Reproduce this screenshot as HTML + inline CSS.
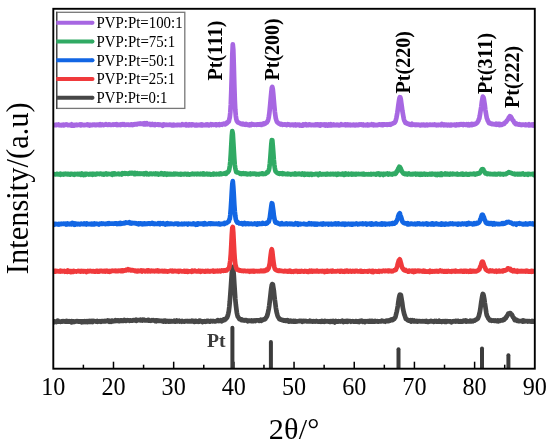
<!DOCTYPE html>
<html><head><meta charset="utf-8"><style>
html,body{margin:0;padding:0;background:#fff;}
svg{display:block;}
text{font-family:"Liberation Serif","DejaVu Serif",serif;}
</style></head><body>
<svg width="550" height="444" viewBox="0 0 550 444">
<rect width="550" height="444" fill="#fff"/>
<defs><clipPath id="pc"><rect x="53.3" y="8.8" width="481.49999999999994" height="359.9"/></clipPath></defs>
<g clip-path="url(#pc)">
<polyline points="53.3,320.9 53.8,322.2 54.3,321.4 54.8,321.7 55.3,321.6 55.8,321.6 56.3,322.1 56.8,321.6 57.3,321.7 57.8,320.6 58.3,321.4 58.8,321.6 59.3,321.6 59.8,321.7 60.3,321.8 60.8,321.6 61.3,321.4 61.8,321.6 62.3,321.2 62.8,321.5 63.3,321.5 63.8,321.1 64.3,321.3 64.8,321.6 65.3,321.5 65.8,321.3 66.3,320.9 66.8,321.6 67.3,321.6 67.8,321.2 68.3,321.7 68.8,321.6 69.3,321.2 69.8,321.3 70.3,321.5 70.8,321.3 71.3,322.3 71.8,321.2 72.3,321.8 72.8,322.0 73.3,321.4 73.8,321.3 74.3,321.6 74.8,321.8 75.3,321.5 75.8,321.5 76.3,321.1 76.8,321.3 77.3,321.4 77.8,321.2 78.3,321.5 78.8,321.7 79.3,321.3 79.8,321.3 80.3,321.5 80.8,321.7 81.3,321.4 81.8,322.2 82.3,321.3 82.8,321.3 83.3,321.9 83.8,321.4 84.3,321.7 84.8,321.2 85.3,322.0 85.8,321.7 86.3,321.3 86.8,321.1 87.3,322.1 87.8,321.6 88.3,321.3 88.8,321.6 89.3,321.0 89.8,321.8 90.3,321.3 90.8,321.7 91.3,321.0 91.8,321.4 92.3,321.5 92.8,321.9 93.3,320.9 93.8,321.2 94.3,321.2 94.8,321.1 95.3,321.3 95.8,321.6 96.3,321.6 96.8,321.6 97.3,321.0 97.8,321.8 98.3,321.5 98.8,321.4 99.3,321.3 99.8,321.2 100.3,321.7 100.8,321.8 101.3,321.3 101.8,321.0 102.3,321.1 102.8,321.2 103.3,321.4 103.8,321.2 104.3,321.3 104.8,321.0 105.3,321.4 105.8,321.2 106.3,321.2 106.8,321.0 107.3,321.1 107.8,320.4 108.3,320.7 108.8,320.7 109.3,321.7 109.8,321.2 110.3,321.3 110.8,320.9 111.3,321.7 111.8,320.7 112.3,320.7 112.8,321.4 113.3,321.3 113.8,321.2 114.3,320.9 114.8,320.8 115.3,320.3 115.8,321.0 116.3,320.7 116.8,320.8 117.3,320.4 117.8,320.6 118.3,320.4 118.8,321.1 119.3,320.8 119.8,321.0 120.3,320.3 120.8,320.5 121.3,320.8 121.8,320.8 122.3,320.5 122.8,320.8 123.3,320.9 123.8,320.5 124.3,319.9 124.8,320.6 125.3,320.7 125.8,320.9 126.3,320.9 126.8,320.4 127.3,320.2 127.8,320.5 128.3,320.4 128.8,320.4 129.3,320.4 129.8,320.8 130.3,320.5 130.8,320.4 131.3,320.6 131.8,320.5 132.3,320.6 132.8,320.4 133.3,320.1 133.8,320.4 134.3,320.4 134.8,320.1 135.3,320.1 135.8,319.8 136.3,320.9 136.8,320.1 137.3,320.4 137.8,320.2 138.3,320.0 138.8,320.0 139.3,320.0 139.8,320.2 140.3,319.8 140.8,320.4 141.3,320.3 141.8,320.1 142.3,320.5 142.8,319.7 143.3,320.0 143.8,319.7 144.3,320.3 144.8,320.4 145.3,320.3 145.8,320.2 146.3,320.5 146.8,320.3 147.3,320.4 147.8,320.0 148.3,320.6 148.8,320.1 149.3,320.6 149.8,320.7 150.3,320.7 150.8,320.8 151.3,320.5 151.8,320.2 152.3,320.5 152.8,320.4 153.3,320.1 153.8,320.5 154.3,320.6 154.8,320.7 155.3,321.1 155.8,320.5 156.3,321.2 156.8,320.5 157.3,320.7 157.8,320.4 158.3,320.8 158.8,321.0 159.3,320.7 159.8,321.0 160.3,320.9 160.8,320.9 161.3,320.9 161.8,321.0 162.3,321.2 162.8,321.0 163.3,321.6 163.8,321.0 164.3,321.3 164.8,320.7 165.3,320.7 165.8,321.6 166.3,321.0 166.8,321.1 167.3,321.4 167.8,321.0 168.3,321.2 168.8,321.6 169.3,321.2 169.8,321.2 170.3,321.1 170.8,321.5 171.3,321.0 171.8,321.0 172.3,321.5 172.8,321.4 173.3,321.3 173.8,321.4 174.3,320.8 174.8,321.2 175.3,321.6 175.8,321.5 176.3,321.3 176.8,320.6 177.3,321.3 177.8,321.3 178.3,321.2 178.8,321.3 179.3,320.7 179.8,321.5 180.3,321.1 180.8,321.3 181.3,321.2 181.8,321.7 182.3,320.9 182.8,321.4 183.3,321.3 183.8,321.6 184.3,321.6 184.8,321.2 185.3,321.1 185.8,321.2 186.3,321.0 186.8,321.2 187.3,321.4 187.8,321.1 188.3,321.2 188.8,321.4 189.3,321.2 189.8,321.0 190.3,321.3 190.8,321.5 191.3,321.2 191.8,320.8 192.3,321.4 192.8,321.4 193.3,321.4 193.8,321.0 194.3,321.9 194.8,321.3 195.3,321.0 195.8,321.6 196.3,320.9 196.8,321.2 197.3,321.5 197.8,321.3 198.3,321.8 198.8,321.5 199.3,320.8 199.8,321.6 200.3,320.8 200.8,321.4 201.3,321.1 201.8,321.3 202.3,322.0 202.8,321.5 203.3,321.3 203.8,321.6 204.3,321.7 204.8,321.2 205.3,321.5 205.8,321.8 206.3,321.5 206.8,321.0 207.3,321.4 207.8,321.0 208.3,320.8 208.8,321.2 209.3,321.5 209.8,321.6 210.3,321.2 210.8,320.9 211.3,321.1 211.8,321.0 212.3,321.3 212.8,321.1 213.3,321.2 213.8,321.2 214.3,321.4 214.8,321.5 215.3,321.2 215.8,321.3 216.3,321.2 216.8,320.8 217.3,320.9 217.8,320.1 218.3,320.6 218.8,321.0 219.3,320.5 219.8,320.6 220.3,320.8 220.8,320.3 221.3,320.7 221.8,321.3 222.3,320.1 222.8,320.4 223.3,319.6 223.8,320.1 224.3,320.1 224.8,319.1 225.3,319.6 225.8,318.9 226.3,318.1 226.8,317.9 227.3,317.0 227.8,315.7 228.3,313.6 228.8,311.2 229.3,307.0 229.8,301.8 230.3,294.9 230.8,288.3 231.3,280.6 231.8,273.0 232.3,268.4 232.8,266.9 233.3,269.8 233.8,275.5 234.3,283.6 234.8,291.2 235.3,299.0 235.8,304.4 236.3,308.4 236.8,312.4 237.3,314.8 237.8,316.6 238.3,317.2 238.8,318.0 239.3,319.0 239.8,318.8 240.3,319.2 240.8,319.3 241.3,319.9 241.8,319.4 242.3,319.9 242.8,320.2 243.3,320.4 243.8,320.4 244.3,320.2 244.8,320.5 245.3,320.2 245.8,320.4 246.3,320.2 246.8,320.4 247.3,320.7 247.8,321.3 248.3,320.7 248.8,320.5 249.3,320.7 249.8,320.6 250.3,320.9 250.8,320.9 251.3,321.1 251.8,320.5 252.3,320.8 252.8,321.0 253.3,321.2 253.8,320.9 254.3,320.4 254.8,320.7 255.3,321.0 255.8,320.4 256.3,320.4 256.8,320.5 257.3,320.5 257.8,320.4 258.3,320.5 258.8,320.4 259.3,320.8 259.8,320.1 260.3,320.4 260.8,319.8 261.3,320.9 261.8,320.0 262.3,319.9 262.8,320.1 263.3,319.8 263.8,319.5 264.3,319.3 264.8,319.4 265.3,318.9 265.8,318.1 266.3,317.3 266.8,316.7 267.3,315.4 267.8,313.6 268.3,311.0 268.8,308.7 269.3,305.3 269.8,300.9 270.3,296.9 270.8,292.3 271.3,288.1 271.8,285.1 272.3,284.1 272.8,284.2 273.3,287.3 273.8,290.3 274.3,295.2 274.8,299.6 275.3,303.2 275.8,307.3 276.3,310.5 276.8,312.9 277.3,314.7 277.8,316.3 278.3,317.4 278.8,317.9 279.3,318.9 279.8,319.3 280.3,319.6 280.8,319.4 281.3,319.6 281.8,319.7 282.3,320.2 282.8,320.3 283.3,320.2 283.8,320.6 284.3,320.3 284.8,320.4 285.3,320.9 285.8,320.8 286.3,320.8 286.8,320.3 287.3,320.1 287.8,320.9 288.3,320.9 288.8,321.6 289.3,320.9 289.8,321.0 290.3,321.3 290.8,320.8 291.3,321.5 291.8,321.2 292.3,321.1 292.8,321.5 293.3,320.9 293.8,320.9 294.3,321.6 294.8,321.6 295.3,321.0 295.8,321.2 296.3,321.6 296.8,321.3 297.3,321.3 297.8,321.3 298.3,321.0 298.8,321.2 299.3,320.8 299.8,320.9 300.3,321.1 300.8,321.0 301.3,320.9 301.8,321.1 302.3,321.7 302.8,321.1 303.3,321.3 303.8,320.9 304.3,321.3 304.8,321.2 305.3,321.2 305.8,320.9 306.3,321.3 306.8,321.4 307.3,321.3 307.8,321.5 308.3,321.3 308.8,321.4 309.3,321.3 309.8,320.8 310.3,321.5 310.8,321.4 311.3,321.4 311.8,321.2 312.3,321.7 312.8,321.6 313.3,321.4 313.8,321.2 314.3,321.4 314.8,321.5 315.3,321.6 315.8,321.3 316.3,321.0 316.8,321.3 317.3,321.3 317.8,321.3 318.3,321.7 318.8,321.5 319.3,321.5 319.8,321.3 320.3,321.4 320.8,321.7 321.3,321.1 321.8,320.9 322.3,321.5 322.8,321.3 323.3,321.3 323.8,321.2 324.3,321.8 324.8,321.0 325.3,321.5 325.8,321.1 326.3,321.4 326.8,321.5 327.3,321.5 327.8,321.2 328.3,321.7 328.8,321.5 329.3,321.6 329.8,321.9 330.3,321.1 330.8,321.3 331.3,321.4 331.8,321.1 332.3,321.7 332.8,321.4 333.3,320.9 333.8,321.2 334.3,322.0 334.8,322.4 335.3,321.7 335.8,321.1 336.3,321.6 336.8,321.5 337.3,321.3 337.8,321.7 338.3,321.4 338.8,321.2 339.3,321.3 339.8,321.3 340.3,321.6 340.8,321.3 341.3,321.5 341.8,321.1 342.3,320.7 342.8,321.6 343.3,322.0 343.8,321.5 344.3,321.3 344.8,321.1 345.3,321.1 345.8,321.6 346.3,321.7 346.8,321.1 347.3,321.7 347.8,321.1 348.3,321.5 348.8,321.2 349.3,321.2 349.8,321.2 350.3,321.2 350.8,321.7 351.3,321.3 351.8,321.4 352.3,321.3 352.8,321.1 353.3,321.5 353.8,321.6 354.3,321.6 354.8,321.5 355.3,321.2 355.8,321.6 356.3,321.1 356.8,321.3 357.3,321.5 357.8,321.8 358.3,321.3 358.8,321.2 359.3,321.9 359.8,321.1 360.3,320.9 360.8,321.3 361.3,321.3 361.8,320.7 362.3,321.1 362.8,321.7 363.3,321.4 363.8,321.4 364.3,321.4 364.8,322.1 365.3,321.2 365.8,321.6 366.3,321.3 366.8,321.4 367.3,321.1 367.8,321.5 368.3,321.6 368.8,321.2 369.3,321.0 369.8,321.5 370.3,321.0 370.8,321.3 371.3,321.5 371.8,320.9 372.3,321.6 372.8,321.1 373.3,321.5 373.8,321.2 374.3,321.7 374.8,321.6 375.3,321.0 375.8,321.3 376.3,321.3 376.8,321.4 377.3,321.2 377.8,321.7 378.3,321.6 378.8,321.3 379.3,321.5 379.8,321.5 380.3,321.3 380.8,321.3 381.3,321.3 381.8,320.7 382.3,320.9 382.8,320.8 383.3,321.2 383.8,321.3 384.3,321.5 384.8,321.2 385.3,321.7 385.8,321.2 386.3,320.8 386.8,320.5 387.3,320.7 387.8,321.1 388.3,320.7 388.8,321.0 389.3,320.5 389.8,320.7 390.3,320.4 390.8,319.8 391.3,320.1 391.8,319.6 392.3,320.1 392.8,320.0 393.3,319.2 393.8,318.7 394.3,318.8 394.8,317.9 395.3,317.3 395.8,315.6 396.3,313.4 396.8,311.5 397.3,308.9 397.8,306.1 398.3,302.3 398.8,299.0 399.3,296.4 399.8,294.7 400.3,294.7 400.8,294.8 401.3,297.5 401.8,300.5 402.3,303.5 402.8,307.6 403.3,309.9 403.8,312.4 404.3,314.4 404.8,315.7 405.3,317.2 405.8,318.8 406.3,319.0 406.8,319.3 407.3,319.7 407.8,320.3 408.3,320.6 408.8,320.2 409.3,320.3 409.8,320.5 410.3,321.1 410.8,320.2 411.3,321.6 411.8,320.9 412.3,320.3 412.8,321.0 413.3,320.9 413.8,321.3 414.3,320.6 414.8,321.4 415.3,321.0 415.8,321.1 416.3,321.4 416.8,320.9 417.3,321.6 417.8,321.4 418.3,321.2 418.8,321.3 419.3,321.1 419.8,321.0 420.3,321.3 420.8,321.4 421.3,321.4 421.8,321.4 422.3,321.1 422.8,321.3 423.3,321.2 423.8,321.3 424.3,321.5 424.8,321.1 425.3,321.6 425.8,321.3 426.3,320.9 426.8,321.6 427.3,321.4 427.8,321.8 428.3,321.5 428.8,321.8 429.3,321.5 429.8,321.5 430.3,321.3 430.8,320.9 431.3,321.3 431.8,321.2 432.3,321.4 432.8,321.4 433.3,321.6 433.8,321.9 434.3,321.4 434.8,320.9 435.3,321.2 435.8,321.5 436.3,320.9 436.8,321.5 437.3,321.6 437.8,321.7 438.3,321.7 438.8,321.5 439.3,320.8 439.8,321.4 440.3,321.7 440.8,321.6 441.3,321.4 441.8,321.9 442.3,321.3 442.8,321.2 443.3,321.3 443.8,321.2 444.3,321.7 444.8,321.9 445.3,321.0 445.8,321.1 446.3,321.8 446.8,321.3 447.3,321.4 447.8,321.2 448.3,321.3 448.8,321.5 449.3,321.3 449.8,321.3 450.3,321.4 450.8,321.9 451.3,322.2 451.8,321.6 452.3,321.8 452.8,321.3 453.3,321.2 453.8,321.3 454.3,321.5 454.8,321.3 455.3,321.0 455.8,321.5 456.3,321.1 456.8,321.1 457.3,321.3 457.8,320.9 458.3,321.5 458.8,321.1 459.3,321.6 459.8,321.5 460.3,321.6 460.8,321.2 461.3,321.6 461.8,321.3 462.3,321.6 462.8,321.0 463.3,320.7 463.8,321.2 464.3,320.8 464.8,321.1 465.3,320.6 465.8,321.2 466.3,321.6 466.8,320.7 467.3,321.2 467.8,321.4 468.3,321.3 468.8,321.5 469.3,321.1 469.8,321.3 470.3,320.6 470.8,320.8 471.3,321.4 471.8,321.3 472.3,321.0 472.8,321.3 473.3,320.7 473.8,320.6 474.3,320.7 474.8,320.5 475.3,320.1 475.8,319.7 476.3,319.4 476.8,319.5 477.3,318.8 477.8,318.6 478.3,317.3 478.8,316.3 479.3,314.0 479.8,312.2 480.3,309.2 480.8,305.6 481.3,301.8 481.8,298.9 482.3,295.8 482.8,294.0 483.3,294.2 483.8,296.3 484.3,299.1 484.8,302.8 485.3,305.9 485.8,309.4 486.3,312.7 486.8,315.2 487.3,316.3 487.8,317.2 488.3,318.4 488.8,318.8 489.3,319.6 489.8,320.2 490.3,319.8 490.8,320.2 491.3,320.1 491.8,320.8 492.3,320.5 492.8,320.7 493.3,320.4 493.8,320.8 494.3,320.9 494.8,320.9 495.3,320.4 495.8,320.8 496.3,321.0 496.8,321.1 497.3,321.1 497.8,320.4 498.3,321.3 498.8,321.1 499.3,320.6 499.8,320.5 500.3,320.8 500.8,320.5 501.3,320.4 501.8,320.2 502.3,320.4 502.8,319.8 503.3,319.9 503.8,319.3 504.3,319.6 504.8,318.6 505.3,318.7 505.8,318.2 506.3,316.9 506.8,316.5 507.3,315.4 507.8,315.0 508.3,313.6 508.8,313.5 509.3,313.5 509.8,313.0 510.3,313.0 510.8,313.9 511.3,314.2 511.8,314.5 512.3,315.6 512.8,316.6 513.3,317.5 513.8,317.9 514.3,319.1 514.8,320.0 515.3,319.8 515.8,320.2 516.3,319.7 516.8,320.4 517.3,320.9 517.8,321.0 518.3,320.7 518.8,321.1 519.3,321.1 519.8,321.0 520.3,321.0 520.8,321.0 521.3,321.1 521.8,320.8 522.3,320.7 522.8,321.6 523.3,320.5 523.8,321.2 524.3,320.9 524.8,321.4 525.3,321.2 525.8,321.2 526.3,321.2 526.8,321.0 527.3,321.1 527.8,321.6 528.3,321.3 528.8,321.1 529.3,321.1 529.8,321.4 530.3,321.4 530.8,321.4 531.3,321.7 531.8,321.7 532.3,320.9 532.8,321.5 533.3,321.3 533.8,321.6 534.3,321.0 534.8,320.9" fill="none" stroke="#474747" stroke-width="4.7" stroke-linejoin="round" stroke-linecap="butt"/>
<polyline points="53.3,271.3 53.8,271.1 54.3,271.5 54.8,270.8 55.3,271.0 55.8,271.5 56.3,270.9 56.8,271.2 57.3,271.2 57.8,271.2 58.3,271.5 58.8,271.4 59.3,271.1 59.8,271.3 60.3,271.5 60.8,270.7 61.3,271.3 61.8,271.4 62.3,271.5 62.8,271.1 63.3,271.0 63.8,271.2 64.3,271.0 64.8,271.7 65.3,271.4 65.8,271.4 66.3,271.3 66.8,271.1 67.3,271.8 67.8,270.4 68.3,271.5 68.8,271.2 69.3,271.0 69.8,271.0 70.3,271.2 70.8,272.1 71.3,271.6 71.8,271.1 72.3,271.5 72.8,271.6 73.3,271.9 73.8,270.9 74.3,271.1 74.8,271.5 75.3,271.3 75.8,271.3 76.3,271.6 76.8,271.4 77.3,271.2 77.8,271.1 78.3,270.9 78.8,271.3 79.3,271.4 79.8,271.2 80.3,271.5 80.8,271.6 81.3,271.0 81.8,271.4 82.3,271.2 82.8,271.1 83.3,271.6 83.8,271.1 84.3,271.1 84.8,271.3 85.3,271.2 85.8,271.5 86.3,271.9 86.8,271.3 87.3,271.5 87.8,271.0 88.3,271.2 88.8,271.4 89.3,271.2 89.8,270.9 90.3,270.9 90.8,271.1 91.3,271.1 91.8,271.3 92.3,271.3 92.8,271.1 93.3,271.3 93.8,271.1 94.3,271.5 94.8,271.7 95.3,271.7 95.8,271.3 96.3,270.8 96.8,270.9 97.3,271.5 97.8,271.6 98.3,271.0 98.8,271.1 99.3,271.6 99.8,270.9 100.3,271.1 100.8,270.8 101.3,271.1 101.8,270.9 102.3,271.1 102.8,271.4 103.3,271.2 103.8,271.3 104.3,270.9 104.8,271.4 105.3,271.6 105.8,270.9 106.3,270.8 106.8,270.7 107.3,270.8 107.8,271.5 108.3,271.3 108.8,271.3 109.3,271.1 109.8,271.7 110.3,271.1 110.8,271.0 111.3,271.3 111.8,271.0 112.3,270.7 112.8,271.0 113.3,270.8 113.8,270.8 114.3,270.9 114.8,270.9 115.3,271.1 115.8,270.7 116.3,271.1 116.8,271.2 117.3,270.8 117.8,271.2 118.3,270.9 118.8,270.7 119.3,270.9 119.8,270.9 120.3,270.6 120.8,270.6 121.3,271.2 121.8,271.1 122.3,270.3 122.8,270.5 123.3,271.1 123.8,270.8 124.3,270.3 124.8,270.5 125.3,270.0 125.8,270.0 126.3,269.8 126.8,270.2 127.3,269.7 127.8,269.3 128.3,270.0 128.8,269.5 129.3,269.6 129.8,269.8 130.3,270.0 130.8,270.4 131.3,270.4 131.8,270.1 132.3,270.1 132.8,270.1 133.3,270.3 133.8,270.3 134.3,270.8 134.8,271.1 135.3,270.7 135.8,270.7 136.3,270.8 136.8,271.3 137.3,271.0 137.8,271.3 138.3,270.8 138.8,271.2 139.3,270.9 139.8,270.8 140.3,270.9 140.8,270.5 141.3,271.2 141.8,271.5 142.3,270.6 142.8,270.5 143.3,270.5 143.8,270.8 144.3,270.8 144.8,270.9 145.3,271.3 145.8,271.1 146.3,270.8 146.8,271.1 147.3,270.4 147.8,271.4 148.3,271.1 148.8,270.6 149.3,271.1 149.8,271.3 150.3,271.4 150.8,271.2 151.3,270.6 151.8,270.9 152.3,270.9 152.8,271.1 153.3,270.8 153.8,271.0 154.3,271.3 154.8,271.1 155.3,271.0 155.8,270.7 156.3,271.1 156.8,270.9 157.3,270.5 157.8,271.3 158.3,271.4 158.8,270.8 159.3,270.9 159.8,271.1 160.3,271.0 160.8,271.2 161.3,270.9 161.8,271.2 162.3,270.9 162.8,271.4 163.3,271.3 163.8,271.1 164.3,271.3 164.8,270.9 165.3,271.1 165.8,271.3 166.3,271.1 166.8,271.3 167.3,271.6 167.8,271.5 168.3,271.4 168.8,271.3 169.3,271.1 169.8,270.9 170.3,271.0 170.8,270.7 171.3,270.8 171.8,271.2 172.3,270.7 172.8,270.9 173.3,271.3 173.8,271.1 174.3,270.9 174.8,271.1 175.3,270.9 175.8,271.1 176.3,271.0 176.8,271.3 177.3,271.1 177.8,271.3 178.3,271.0 178.8,271.7 179.3,271.1 179.8,270.9 180.3,271.1 180.8,271.2 181.3,271.1 181.8,271.5 182.3,271.5 182.8,271.3 183.3,271.3 183.8,271.0 184.3,271.5 184.8,271.0 185.3,271.7 185.8,271.5 186.3,271.3 186.8,270.9 187.3,271.4 187.8,271.8 188.3,271.1 188.8,271.3 189.3,271.5 189.8,271.5 190.3,271.4 190.8,271.2 191.3,271.1 191.8,271.7 192.3,270.6 192.8,271.3 193.3,271.3 193.8,271.1 194.3,271.2 194.8,270.6 195.3,270.9 195.8,271.3 196.3,271.4 196.8,271.4 197.3,271.3 197.8,271.1 198.3,271.4 198.8,270.8 199.3,271.3 199.8,271.3 200.3,271.0 200.8,271.8 201.3,271.5 201.8,271.1 202.3,271.2 202.8,271.2 203.3,271.1 203.8,271.4 204.3,271.3 204.8,271.6 205.3,271.7 205.8,270.9 206.3,271.5 206.8,271.4 207.3,270.8 207.8,270.9 208.3,271.4 208.8,271.3 209.3,271.2 209.8,271.5 210.3,271.0 210.8,271.1 211.3,271.1 211.8,271.0 212.3,271.0 212.8,270.6 213.3,270.7 213.8,271.6 214.3,270.9 214.8,271.5 215.3,271.5 215.8,270.9 216.3,271.3 216.8,271.2 217.3,270.8 217.8,271.3 218.3,271.3 218.8,271.0 219.3,270.7 219.8,270.9 220.3,271.4 220.8,271.1 221.3,271.0 221.8,270.4 222.3,270.6 222.8,270.6 223.3,270.4 223.8,270.8 224.3,270.5 224.8,270.4 225.3,270.7 225.8,270.3 226.3,270.0 226.8,270.3 227.3,269.5 227.8,269.2 228.3,268.7 228.8,268.5 229.3,266.9 229.8,264.2 230.3,260.2 230.8,254.1 231.3,245.1 231.8,234.9 232.3,227.9 232.8,227.0 233.3,232.8 233.8,243.2 234.3,252.4 234.8,259.6 235.3,264.1 235.8,266.2 236.3,268.1 236.8,269.2 237.3,269.6 237.8,269.7 238.3,269.7 238.8,270.4 239.3,270.1 239.8,270.6 240.3,270.4 240.8,270.5 241.3,270.5 241.8,270.9 242.3,270.8 242.8,270.7 243.3,271.2 243.8,270.9 244.3,270.8 244.8,270.7 245.3,271.0 245.8,271.1 246.3,271.0 246.8,271.2 247.3,271.1 247.8,270.9 248.3,271.0 248.8,271.4 249.3,271.2 249.8,271.7 250.3,270.9 250.8,271.3 251.3,271.0 251.8,271.4 252.3,271.1 252.8,271.0 253.3,270.8 253.8,271.5 254.3,270.9 254.8,271.2 255.3,271.3 255.8,271.0 256.3,271.2 256.8,271.2 257.3,271.3 257.8,271.0 258.3,271.1 258.8,271.1 259.3,271.3 259.8,271.2 260.3,270.9 260.8,270.7 261.3,271.0 261.8,270.6 262.3,271.0 262.8,271.2 263.3,270.7 263.8,271.1 264.3,270.7 264.8,270.5 265.3,270.8 265.8,270.6 266.3,269.8 266.8,270.2 267.3,270.0 267.8,269.4 268.3,269.0 268.8,267.7 269.3,265.6 269.8,263.3 270.3,258.2 270.8,254.3 271.3,250.7 271.8,249.2 272.3,251.6 272.8,256.2 273.3,260.2 273.8,264.3 274.3,266.8 274.8,268.7 275.3,269.5 275.8,269.7 276.3,270.1 276.8,270.3 277.3,270.3 277.8,270.7 278.3,270.9 278.8,270.9 279.3,270.4 279.8,270.9 280.3,270.9 280.8,271.0 281.3,270.9 281.8,270.9 282.3,271.1 282.8,271.1 283.3,271.3 283.8,271.4 284.3,271.0 284.8,270.9 285.3,270.9 285.8,271.1 286.3,271.4 286.8,271.0 287.3,271.0 287.8,271.6 288.3,271.0 288.8,271.0 289.3,270.7 289.8,271.5 290.3,271.6 290.8,271.0 291.3,271.7 291.8,271.4 292.3,271.5 292.8,271.5 293.3,271.8 293.8,271.3 294.3,271.0 294.8,271.1 295.3,271.1 295.8,271.3 296.3,270.8 296.8,271.1 297.3,271.0 297.8,271.7 298.3,271.2 298.8,271.6 299.3,271.2 299.8,271.2 300.3,271.6 300.8,271.2 301.3,270.9 301.8,271.1 302.3,271.1 302.8,271.5 303.3,271.5 303.8,271.6 304.3,271.2 304.8,270.9 305.3,271.1 305.8,271.3 306.3,271.6 306.8,271.1 307.3,271.3 307.8,271.8 308.3,271.8 308.8,271.4 309.3,271.5 309.8,270.8 310.3,271.3 310.8,271.6 311.3,271.4 311.8,270.8 312.3,271.5 312.8,271.1 313.3,271.2 313.8,270.9 314.3,271.1 314.8,271.4 315.3,271.1 315.8,271.3 316.3,271.0 316.8,271.3 317.3,270.7 317.8,271.3 318.3,271.2 318.8,271.5 319.3,271.2 319.8,271.3 320.3,271.2 320.8,271.0 321.3,271.4 321.8,271.5 322.3,271.0 322.8,271.4 323.3,271.5 323.8,271.0 324.3,271.1 324.8,272.0 325.3,271.4 325.8,271.1 326.3,271.0 326.8,271.4 327.3,270.8 327.8,271.5 328.3,271.3 328.8,271.2 329.3,271.3 329.8,271.1 330.3,271.0 330.8,271.3 331.3,270.9 331.8,271.5 332.3,271.3 332.8,270.8 333.3,271.2 333.8,271.0 334.3,271.4 334.8,271.3 335.3,271.3 335.8,271.2 336.3,271.4 336.8,271.3 337.3,271.1 337.8,270.9 338.3,271.2 338.8,271.1 339.3,271.0 339.8,271.6 340.3,271.7 340.8,270.8 341.3,270.9 341.8,271.3 342.3,271.2 342.8,271.5 343.3,271.7 343.8,271.2 344.3,271.7 344.8,271.0 345.3,271.5 345.8,271.2 346.3,270.7 346.8,270.7 347.3,271.3 347.8,271.0 348.3,271.6 348.8,271.4 349.3,271.2 349.8,270.9 350.3,271.4 350.8,271.1 351.3,271.2 351.8,271.6 352.3,271.3 352.8,270.9 353.3,271.3 353.8,271.1 354.3,271.0 354.8,271.5 355.3,270.9 355.8,270.9 356.3,270.8 356.8,270.9 357.3,271.4 357.8,271.4 358.3,271.5 358.8,271.5 359.3,271.5 359.8,271.0 360.3,270.9 360.8,271.5 361.3,271.0 361.8,271.6 362.3,271.4 362.8,271.5 363.3,271.7 363.8,271.3 364.3,271.2 364.8,271.4 365.3,271.4 365.8,271.5 366.3,271.3 366.8,271.4 367.3,271.2 367.8,271.6 368.3,271.2 368.8,271.1 369.3,270.9 369.8,271.0 370.3,271.2 370.8,271.5 371.3,271.8 371.8,271.3 372.3,270.9 372.8,270.8 373.3,272.0 373.8,271.5 374.3,271.4 374.8,271.5 375.3,271.2 375.8,271.2 376.3,271.4 376.8,271.3 377.3,271.7 377.8,271.5 378.3,271.5 378.8,271.0 379.3,271.7 379.8,271.3 380.3,271.0 380.8,271.2 381.3,271.0 381.8,271.4 382.3,271.1 382.8,271.0 383.3,270.6 383.8,271.0 384.3,270.8 384.8,271.2 385.3,271.2 385.8,270.7 386.3,271.0 386.8,270.8 387.3,271.0 387.8,270.5 388.3,270.5 388.8,271.3 389.3,270.6 389.8,270.9 390.3,270.9 390.8,271.1 391.3,270.8 391.8,271.3 392.3,271.1 392.8,271.1 393.3,270.7 393.8,270.4 394.3,270.3 394.8,270.2 395.3,270.1 395.8,269.9 396.3,268.5 396.8,267.5 397.3,265.9 397.8,263.8 398.3,262.2 398.8,260.5 399.3,260.0 399.8,259.3 400.3,260.7 400.8,262.8 401.3,264.4 401.8,266.6 402.3,267.9 402.8,268.3 403.3,269.4 403.8,269.8 404.3,270.2 404.8,270.4 405.3,270.6 405.8,270.1 406.3,270.9 406.8,270.7 407.3,271.0 407.8,271.1 408.3,271.7 408.8,271.6 409.3,270.6 409.8,270.7 410.3,271.2 410.8,271.1 411.3,271.0 411.8,271.4 412.3,270.7 412.8,271.5 413.3,271.4 413.8,272.0 414.3,270.8 414.8,271.2 415.3,270.7 415.8,271.5 416.3,271.1 416.8,271.2 417.3,271.2 417.8,270.6 418.3,270.6 418.8,270.8 419.3,271.3 419.8,271.0 420.3,270.9 420.8,271.1 421.3,271.1 421.8,271.1 422.3,271.5 422.8,271.2 423.3,270.8 423.8,271.5 424.3,271.2 424.8,271.0 425.3,271.6 425.8,271.3 426.3,271.7 426.8,271.4 427.3,271.7 427.8,271.5 428.3,271.4 428.8,271.3 429.3,271.3 429.8,271.9 430.3,270.8 430.8,271.3 431.3,271.6 431.8,271.4 432.3,271.2 432.8,271.6 433.3,271.4 433.8,271.4 434.3,271.1 434.8,271.5 435.3,271.1 435.8,271.2 436.3,271.3 436.8,270.9 437.3,271.3 437.8,271.6 438.3,271.2 438.8,271.2 439.3,271.3 439.8,271.2 440.3,270.6 440.8,271.2 441.3,271.1 441.8,271.3 442.3,270.9 442.8,271.3 443.3,271.5 443.8,271.6 444.3,271.1 444.8,271.1 445.3,271.7 445.8,271.5 446.3,271.1 446.8,271.0 447.3,271.6 447.8,271.4 448.3,271.0 448.8,271.4 449.3,271.4 449.8,271.4 450.3,271.6 450.8,271.3 451.3,271.2 451.8,271.7 452.3,271.2 452.8,271.0 453.3,271.2 453.8,271.0 454.3,271.4 454.8,270.9 455.3,271.5 455.8,270.7 456.3,271.4 456.8,271.5 457.3,271.5 457.8,271.4 458.3,271.4 458.8,271.5 459.3,271.4 459.8,271.1 460.3,271.0 460.8,271.3 461.3,270.9 461.8,271.5 462.3,271.5 462.8,271.6 463.3,271.1 463.8,271.7 464.3,271.6 464.8,270.9 465.3,270.8 465.8,270.9 466.3,271.6 466.8,271.2 467.3,271.0 467.8,271.2 468.3,271.7 468.8,271.3 469.3,271.7 469.8,271.5 470.3,270.6 470.8,271.0 471.3,271.6 471.8,271.6 472.3,271.0 472.8,271.3 473.3,270.9 473.8,271.3 474.3,271.1 474.8,271.0 475.3,271.3 475.8,271.5 476.3,271.2 476.8,271.0 477.3,270.7 477.8,270.5 478.3,270.3 478.8,269.7 479.3,269.4 479.8,267.9 480.3,266.5 480.8,265.5 481.3,263.9 481.8,262.2 482.3,261.6 482.8,261.8 483.3,262.9 483.8,264.5 484.3,266.2 484.8,267.1 485.3,268.1 485.8,269.6 486.3,269.9 486.8,270.2 487.3,270.7 487.8,270.9 488.3,270.9 488.8,271.4 489.3,271.0 489.8,271.1 490.3,270.4 490.8,270.8 491.3,271.2 491.8,271.1 492.3,270.6 492.8,270.7 493.3,271.1 493.8,271.2 494.3,271.5 494.8,271.2 495.3,271.2 495.8,271.4 496.3,270.7 496.8,271.7 497.3,271.2 497.8,271.1 498.3,271.0 498.8,270.7 499.3,271.5 499.8,271.4 500.3,271.1 500.8,271.1 501.3,271.2 501.8,271.3 502.3,270.8 502.8,271.3 503.3,271.1 503.8,270.5 504.3,270.3 504.8,270.3 505.3,270.6 505.8,270.3 506.3,270.0 506.8,269.7 507.3,269.1 507.8,268.3 508.3,268.4 508.8,268.7 509.3,268.9 509.8,269.3 510.3,269.0 510.8,270.2 511.3,269.9 511.8,270.7 512.3,270.8 512.8,271.2 513.3,270.6 513.8,271.0 514.3,270.3 514.8,271.4 515.3,271.4 515.8,271.0 516.3,271.0 516.8,271.3 517.3,271.8 517.8,270.8 518.3,271.1 518.8,271.1 519.3,271.4 519.8,271.1 520.3,271.4 520.8,271.2 521.3,271.3 521.8,270.9 522.3,271.4 522.8,271.4 523.3,271.0 523.8,271.2 524.3,271.3 524.8,271.3 525.3,271.0 525.8,271.5 526.3,271.1 526.8,270.7 527.3,271.2 527.8,271.5 528.3,271.6 528.8,271.2 529.3,271.6 529.8,271.7 530.3,271.5 530.8,271.6 531.3,271.0 531.8,271.7 532.3,270.9 532.8,271.5 533.3,271.3 533.8,271.1 534.3,271.2 534.8,271.1" fill="none" stroke="#f03a3c" stroke-width="4.7" stroke-linejoin="round" stroke-linecap="butt"/>
<polyline points="53.3,224.3 53.8,224.7 54.3,224.1 54.8,224.5 55.3,224.2 55.8,223.8 56.3,224.1 56.8,224.2 57.3,224.3 57.8,224.1 58.3,224.1 58.8,224.5 59.3,223.9 59.8,224.3 60.3,224.0 60.8,224.1 61.3,223.7 61.8,223.8 62.3,224.0 62.8,224.0 63.3,223.9 63.8,223.6 64.3,223.7 64.8,224.0 65.3,223.9 65.8,223.6 66.3,224.5 66.8,223.9 67.3,224.3 67.8,223.6 68.3,224.1 68.8,224.0 69.3,224.3 69.8,224.0 70.3,223.8 70.8,223.5 71.3,224.4 71.8,224.1 72.3,222.9 72.8,223.7 73.3,224.0 73.8,223.8 74.3,224.7 74.8,223.5 75.3,223.9 75.8,224.4 76.3,223.7 76.8,224.2 77.3,224.3 77.8,223.8 78.3,223.9 78.8,224.1 79.3,224.0 79.8,224.4 80.3,224.4 80.8,223.7 81.3,223.6 81.8,223.9 82.3,223.9 82.8,224.1 83.3,224.0 83.8,224.2 84.3,223.5 84.8,224.1 85.3,223.9 85.8,224.0 86.3,224.4 86.8,223.4 87.3,224.1 87.8,224.2 88.3,223.9 88.8,224.2 89.3,223.9 89.8,224.2 90.3,223.8 90.8,223.9 91.3,224.3 91.8,223.7 92.3,223.9 92.8,224.3 93.3,223.8 93.8,223.8 94.3,223.4 94.8,224.2 95.3,223.7 95.8,223.9 96.3,223.7 96.8,224.0 97.3,223.9 97.8,223.8 98.3,224.2 98.8,224.5 99.3,223.9 99.8,224.0 100.3,223.9 100.8,223.7 101.3,223.9 101.8,223.5 102.3,223.9 102.8,223.8 103.3,223.6 103.8,223.7 104.3,223.9 104.8,223.8 105.3,224.1 105.8,224.0 106.3,223.8 106.8,223.6 107.3,223.9 107.8,223.6 108.3,223.3 108.8,223.2 109.3,223.8 109.8,223.5 110.3,223.6 110.8,223.6 111.3,223.5 111.8,223.6 112.3,223.5 112.8,223.7 113.3,223.8 113.8,223.7 114.3,223.6 114.8,223.4 115.3,223.6 115.8,223.5 116.3,223.3 116.8,224.0 117.3,223.8 117.8,223.5 118.3,223.7 118.8,223.9 119.3,223.3 119.8,223.6 120.3,223.9 120.8,223.0 121.3,223.8 121.8,223.4 122.3,223.6 122.8,223.3 123.3,223.1 123.8,223.4 124.3,223.1 124.8,223.0 125.3,223.2 125.8,222.5 126.3,222.7 126.8,222.7 127.3,222.8 127.8,222.7 128.3,222.6 128.8,222.8 129.3,222.3 129.8,223.4 130.3,223.4 130.8,222.9 131.3,223.5 131.8,223.0 132.3,223.3 132.8,223.0 133.3,223.1 133.8,223.0 134.3,223.1 134.8,223.1 135.3,223.3 135.8,223.2 136.3,223.4 136.8,223.7 137.3,223.9 137.8,223.9 138.3,223.4 138.8,224.2 139.3,223.5 139.8,223.8 140.3,223.4 140.8,223.5 141.3,223.8 141.8,223.6 142.3,224.2 142.8,223.5 143.3,223.5 143.8,224.1 144.3,223.4 144.8,223.7 145.3,223.6 145.8,224.0 146.3,223.5 146.8,223.5 147.3,223.6 147.8,223.9 148.3,223.4 148.8,223.3 149.3,223.5 149.8,223.4 150.3,223.8 150.8,223.6 151.3,223.6 151.8,223.6 152.3,222.9 152.8,223.6 153.3,223.9 153.8,223.5 154.3,224.0 154.8,223.6 155.3,223.5 155.8,223.9 156.3,223.8 156.8,224.0 157.3,223.7 157.8,223.9 158.3,223.3 158.8,223.6 159.3,223.8 159.8,224.2 160.3,223.2 160.8,223.4 161.3,223.6 161.8,223.7 162.3,223.7 162.8,223.9 163.3,223.3 163.8,223.7 164.3,224.2 164.8,224.0 165.3,224.5 165.8,223.6 166.3,223.6 166.8,223.3 167.3,223.2 167.8,224.1 168.3,223.7 168.8,223.6 169.3,223.6 169.8,224.0 170.3,223.6 170.8,223.7 171.3,223.5 171.8,223.9 172.3,223.9 172.8,224.0 173.3,224.0 173.8,224.1 174.3,224.0 174.8,223.7 175.3,223.8 175.8,223.5 176.3,223.6 176.8,223.7 177.3,224.2 177.8,223.7 178.3,223.6 178.8,224.3 179.3,224.2 179.8,224.2 180.3,224.2 180.8,224.0 181.3,224.2 181.8,223.8 182.3,224.3 182.8,224.0 183.3,224.1 183.8,224.2 184.3,223.6 184.8,223.9 185.3,223.8 185.8,224.0 186.3,223.7 186.8,223.8 187.3,224.0 187.8,224.4 188.3,223.7 188.8,223.7 189.3,223.9 189.8,223.9 190.3,223.9 190.8,223.9 191.3,224.2 191.8,224.0 192.3,223.9 192.8,224.1 193.3,224.2 193.8,223.4 194.3,223.8 194.8,224.0 195.3,224.1 195.8,224.7 196.3,224.3 196.8,224.0 197.3,223.6 197.8,224.5 198.3,224.1 198.8,223.4 199.3,223.7 199.8,223.8 200.3,223.6 200.8,224.0 201.3,224.0 201.8,223.7 202.3,223.7 202.8,224.2 203.3,223.5 203.8,224.4 204.3,224.1 204.8,223.1 205.3,224.1 205.8,223.7 206.3,224.2 206.8,224.0 207.3,224.1 207.8,224.0 208.3,223.7 208.8,223.4 209.3,223.7 209.8,223.5 210.3,224.0 210.8,223.5 211.3,223.7 211.8,223.5 212.3,224.0 212.8,223.9 213.3,223.5 213.8,223.7 214.3,223.8 214.8,224.0 215.3,223.9 215.8,223.7 216.3,223.6 216.8,224.0 217.3,223.9 217.8,223.7 218.3,224.1 218.8,223.5 219.3,223.7 219.8,223.8 220.3,224.4 220.8,224.1 221.3,223.9 221.8,223.8 222.3,223.9 222.8,223.5 223.3,223.5 223.8,223.5 224.3,224.0 224.8,222.9 225.3,223.3 225.8,223.0 226.3,223.2 226.8,222.8 227.3,222.4 227.8,222.3 228.3,221.7 228.8,221.3 229.3,219.6 229.8,218.7 230.3,214.8 230.8,208.6 231.3,200.9 231.8,191.7 232.3,184.2 232.8,181.1 233.3,186.9 233.8,195.2 234.3,204.3 234.8,211.2 235.3,215.9 235.8,219.3 236.3,220.9 236.8,221.7 237.3,222.6 237.8,222.2 238.3,222.8 238.8,222.8 239.3,223.4 239.8,223.2 240.3,223.4 240.8,223.4 241.3,223.7 241.8,223.2 242.3,223.7 242.8,224.3 243.3,223.4 243.8,223.7 244.3,223.9 244.8,223.0 245.3,223.7 245.8,224.1 246.3,223.9 246.8,223.7 247.3,223.8 247.8,223.4 248.3,223.5 248.8,224.0 249.3,223.8 249.8,223.6 250.3,223.9 250.8,224.0 251.3,223.6 251.8,223.7 252.3,224.2 252.8,224.0 253.3,224.0 253.8,223.9 254.3,224.0 254.8,223.5 255.3,224.1 255.8,224.1 256.3,223.8 256.8,224.5 257.3,224.1 257.8,223.6 258.3,224.2 258.8,224.0 259.3,223.5 259.8,223.7 260.3,223.8 260.8,223.7 261.3,223.9 261.8,223.6 262.3,223.8 262.8,223.0 263.3,223.5 263.8,223.7 264.3,223.6 264.8,223.5 265.3,223.8 265.8,223.6 266.3,222.9 266.8,223.5 267.3,223.1 267.8,222.4 268.3,221.8 268.8,221.7 269.3,219.5 269.8,217.8 270.3,213.9 270.8,210.1 271.3,206.2 271.8,203.2 272.3,203.6 272.8,207.1 273.3,210.5 273.8,215.2 274.3,217.9 274.8,220.4 275.3,222.1 275.8,222.7 276.3,222.8 276.8,222.8 277.3,222.7 277.8,223.3 278.3,223.5 278.8,223.8 279.3,223.6 279.8,223.5 280.3,224.3 280.8,223.3 281.3,223.4 281.8,223.1 282.3,224.0 282.8,223.8 283.3,223.8 283.8,224.2 284.3,224.1 284.8,224.1 285.3,223.7 285.8,223.7 286.3,223.5 286.8,224.0 287.3,224.3 287.8,223.8 288.3,223.8 288.8,223.7 289.3,223.6 289.8,224.1 290.3,223.7 290.8,224.2 291.3,223.9 291.8,223.7 292.3,224.0 292.8,223.9 293.3,224.3 293.8,224.1 294.3,223.9 294.8,224.3 295.3,224.2 295.8,223.3 296.3,223.9 296.8,224.2 297.3,224.2 297.8,223.6 298.3,224.7 298.8,224.1 299.3,223.8 299.8,224.1 300.3,223.8 300.8,224.3 301.3,224.0 301.8,224.0 302.3,224.0 302.8,224.0 303.3,224.0 303.8,223.7 304.3,224.1 304.8,224.2 305.3,224.1 305.8,224.1 306.3,224.4 306.8,224.5 307.3,224.4 307.8,223.9 308.3,224.2 308.8,224.1 309.3,223.2 309.8,223.7 310.3,224.1 310.8,224.2 311.3,223.6 311.8,224.2 312.3,223.7 312.8,223.8 313.3,223.6 313.8,224.2 314.3,223.8 314.8,224.5 315.3,224.1 315.8,223.7 316.3,223.8 316.8,224.5 317.3,223.8 317.8,223.9 318.3,224.0 318.8,224.2 319.3,224.1 319.8,224.2 320.3,223.8 320.8,223.9 321.3,223.7 321.8,223.8 322.3,224.4 322.8,224.0 323.3,223.4 323.8,224.3 324.3,223.9 324.8,224.2 325.3,224.3 325.8,224.0 326.3,223.8 326.8,223.8 327.3,223.9 327.8,223.8 328.3,224.5 328.8,223.8 329.3,223.9 329.8,224.1 330.3,224.0 330.8,224.3 331.3,223.7 331.8,224.2 332.3,224.4 332.8,224.0 333.3,224.2 333.8,224.0 334.3,223.6 334.8,224.1 335.3,224.0 335.8,223.4 336.3,224.4 336.8,223.9 337.3,223.7 337.8,223.6 338.3,223.4 338.8,224.2 339.3,223.9 339.8,224.0 340.3,224.1 340.8,224.2 341.3,224.4 341.8,223.9 342.3,223.8 342.8,224.3 343.3,223.8 343.8,224.2 344.3,224.3 344.8,224.8 345.3,223.7 345.8,223.8 346.3,224.1 346.8,224.1 347.3,224.4 347.8,223.9 348.3,224.0 348.8,223.9 349.3,224.0 349.8,224.4 350.3,224.5 350.8,223.9 351.3,224.5 351.8,223.9 352.3,223.8 352.8,224.4 353.3,223.8 353.8,224.0 354.3,223.9 354.8,224.2 355.3,224.0 355.8,223.9 356.3,223.5 356.8,223.8 357.3,223.9 357.8,224.4 358.3,223.9 358.8,224.2 359.3,224.0 359.8,223.9 360.3,223.7 360.8,223.8 361.3,223.9 361.8,224.0 362.3,223.6 362.8,224.2 363.3,224.0 363.8,223.6 364.3,224.0 364.8,223.8 365.3,223.7 365.8,223.4 366.3,223.7 366.8,224.5 367.3,224.0 367.8,223.9 368.3,223.8 368.8,223.9 369.3,223.5 369.8,223.7 370.3,224.3 370.8,224.2 371.3,224.6 371.8,223.5 372.3,224.0 372.8,224.0 373.3,224.4 373.8,224.1 374.3,223.9 374.8,224.1 375.3,224.1 375.8,224.2 376.3,223.4 376.8,224.2 377.3,224.4 377.8,224.1 378.3,224.1 378.8,224.0 379.3,224.1 379.8,224.3 380.3,224.1 380.8,223.9 381.3,224.4 381.8,223.4 382.3,223.5 382.8,224.5 383.3,224.1 383.8,223.7 384.3,223.6 384.8,223.5 385.3,224.5 385.8,224.3 386.3,224.1 386.8,223.8 387.3,224.2 387.8,223.8 388.3,223.8 388.8,223.7 389.3,224.2 389.8,223.8 390.3,223.8 390.8,223.9 391.3,223.4 391.8,223.8 392.3,223.3 392.8,223.8 393.3,223.1 393.8,223.0 394.3,223.6 394.8,223.1 395.3,222.8 395.8,222.7 396.3,221.5 396.8,220.6 397.3,219.6 397.8,217.8 398.3,215.8 398.8,214.6 399.3,213.8 399.8,213.2 400.3,215.1 400.8,216.3 401.3,217.8 401.8,219.4 402.3,221.5 402.8,222.0 403.3,222.6 403.8,223.0 404.3,223.0 404.8,223.2 405.3,223.5 405.8,223.5 406.3,223.3 406.8,223.3 407.3,224.3 407.8,223.1 408.3,223.9 408.8,223.6 409.3,224.3 409.8,224.0 410.3,224.2 410.8,223.5 411.3,223.6 411.8,223.9 412.3,223.9 412.8,223.8 413.3,224.2 413.8,224.1 414.3,224.1 414.8,223.7 415.3,223.9 415.8,224.3 416.3,223.8 416.8,223.8 417.3,223.5 417.8,224.1 418.3,223.8 418.8,223.4 419.3,224.0 419.8,224.1 420.3,223.8 420.8,224.1 421.3,224.0 421.8,224.1 422.3,224.2 422.8,223.7 423.3,224.1 423.8,224.3 424.3,224.0 424.8,224.0 425.3,223.9 425.8,223.7 426.3,223.5 426.8,224.3 427.3,224.0 427.8,224.5 428.3,223.9 428.8,223.8 429.3,224.2 429.8,224.2 430.3,224.3 430.8,224.4 431.3,223.8 431.8,223.4 432.3,224.3 432.8,223.5 433.3,224.0 433.8,224.4 434.3,223.8 434.8,223.8 435.3,223.9 435.8,224.1 436.3,223.5 436.8,224.1 437.3,223.8 437.8,223.8 438.3,224.3 438.8,224.5 439.3,224.5 439.8,224.1 440.3,223.9 440.8,224.5 441.3,224.2 441.8,223.6 442.3,224.5 442.8,223.9 443.3,223.9 443.8,223.8 444.3,224.4 444.8,223.9 445.3,224.4 445.8,223.6 446.3,224.2 446.8,223.9 447.3,224.2 447.8,224.0 448.3,224.4 448.8,223.9 449.3,223.8 449.8,224.0 450.3,223.5 450.8,223.9 451.3,223.8 451.8,223.9 452.3,223.5 452.8,224.2 453.3,224.1 453.8,224.1 454.3,223.8 454.8,223.9 455.3,223.8 455.8,223.9 456.3,224.1 456.8,224.0 457.3,223.9 457.8,224.6 458.3,223.6 458.8,224.1 459.3,224.1 459.8,223.9 460.3,224.0 460.8,224.4 461.3,224.0 461.8,223.6 462.3,223.7 462.8,223.6 463.3,224.1 463.8,224.0 464.3,223.7 464.8,223.5 465.3,223.9 465.8,224.2 466.3,224.5 466.8,223.5 467.3,224.4 467.8,223.8 468.3,223.7 468.8,223.0 469.3,223.8 469.8,223.9 470.3,223.8 470.8,223.7 471.3,223.5 471.8,223.7 472.3,224.1 472.8,224.4 473.3,223.7 473.8,224.0 474.3,223.3 474.8,224.1 475.3,223.6 475.8,223.9 476.3,223.8 476.8,223.0 477.3,223.3 477.8,223.3 478.3,222.8 478.8,222.8 479.3,222.0 479.8,221.2 480.3,219.3 480.8,218.3 481.3,216.7 481.8,215.1 482.3,214.7 482.8,214.8 483.3,216.2 483.8,217.0 484.3,218.6 484.8,220.2 485.3,220.9 485.8,222.6 486.3,222.5 486.8,223.4 487.3,223.6 487.8,223.5 488.3,223.1 488.8,223.9 489.3,223.9 489.8,224.0 490.3,223.1 490.8,223.6 491.3,223.7 491.8,223.2 492.3,223.7 492.8,224.4 493.3,224.0 493.8,224.2 494.3,223.3 494.8,224.3 495.3,223.8 495.8,224.0 496.3,224.0 496.8,223.9 497.3,223.9 497.8,224.1 498.3,224.2 498.8,224.1 499.3,224.2 499.8,224.1 500.3,223.8 500.8,223.9 501.3,223.7 501.8,223.9 502.3,223.2 502.8,224.0 503.3,224.0 503.8,223.3 504.3,223.7 504.8,223.4 505.3,222.9 505.8,223.0 506.3,222.8 506.8,222.1 507.3,222.0 507.8,222.0 508.3,222.1 508.8,221.8 509.3,222.3 509.8,222.3 510.3,222.7 510.8,222.6 511.3,222.7 511.8,223.4 512.3,223.5 512.8,223.9 513.3,224.1 513.8,223.9 514.3,223.6 514.8,223.7 515.3,223.7 515.8,224.0 516.3,224.7 516.8,223.6 517.3,223.5 517.8,223.7 518.3,223.7 518.8,223.6 519.3,223.2 519.8,223.8 520.3,223.5 520.8,223.7 521.3,223.8 521.8,224.0 522.3,224.1 522.8,224.3 523.3,223.8 523.8,224.1 524.3,224.3 524.8,224.2 525.3,224.3 525.8,223.5 526.3,224.0 526.8,223.9 527.3,224.3 527.8,224.3 528.3,223.7 528.8,224.0 529.3,223.9 529.8,223.4 530.3,223.4 530.8,223.8 531.3,223.8 531.8,223.9 532.3,224.1 532.8,223.4 533.3,224.3 533.8,224.0 534.3,224.5 534.8,224.4" fill="none" stroke="#1266e4" stroke-width="4.7" stroke-linejoin="round" stroke-linecap="butt"/>
<polyline points="53.3,174.1 53.8,174.1 54.3,174.1 54.8,174.3 55.3,174.4 55.8,174.4 56.3,174.3 56.8,173.9 57.3,173.8 57.8,174.1 58.3,174.4 58.8,174.5 59.3,174.1 59.8,174.3 60.3,174.7 60.8,173.8 61.3,174.2 61.8,174.3 62.3,174.4 62.8,174.5 63.3,173.9 63.8,174.5 64.3,174.2 64.8,174.0 65.3,173.7 65.8,174.0 66.3,174.2 66.8,174.3 67.3,173.9 67.8,173.9 68.3,174.3 68.8,174.0 69.3,174.2 69.8,174.7 70.3,174.5 70.8,174.0 71.3,173.8 71.8,174.0 72.3,174.3 72.8,174.4 73.3,174.0 73.8,174.1 74.3,174.7 74.8,174.0 75.3,174.4 75.8,174.0 76.3,174.0 76.8,174.0 77.3,173.9 77.8,174.0 78.3,174.5 78.8,174.5 79.3,173.9 79.8,174.0 80.3,174.6 80.8,174.8 81.3,173.9 81.8,173.5 82.3,173.9 82.8,174.2 83.3,174.1 83.8,175.0 84.3,174.5 84.8,173.9 85.3,173.9 85.8,174.8 86.3,173.8 86.8,174.0 87.3,173.9 87.8,174.2 88.3,174.2 88.8,174.5 89.3,174.1 89.8,173.9 90.3,174.4 90.8,174.0 91.3,174.3 91.8,173.8 92.3,173.9 92.8,174.8 93.3,174.0 93.8,173.8 94.3,174.3 94.8,174.2 95.3,174.2 95.8,174.5 96.3,174.2 96.8,173.7 97.3,174.0 97.8,173.7 98.3,173.8 98.8,173.8 99.3,174.1 99.8,173.9 100.3,173.5 100.8,173.7 101.3,174.0 101.8,174.3 102.3,174.3 102.8,174.0 103.3,173.9 103.8,174.6 104.3,174.0 104.8,173.9 105.3,174.0 105.8,174.2 106.3,173.4 106.8,173.8 107.3,174.4 107.8,174.2 108.3,173.8 108.8,173.9 109.3,174.0 109.8,174.0 110.3,174.1 110.8,174.1 111.3,174.3 111.8,173.8 112.3,174.8 112.8,174.2 113.3,173.6 113.8,174.2 114.3,174.3 114.8,173.4 115.3,173.6 115.8,174.0 116.3,174.1 116.8,174.0 117.3,174.0 117.8,173.9 118.3,174.1 118.8,173.7 119.3,174.0 119.8,174.3 120.3,174.2 120.8,173.8 121.3,174.0 121.8,174.4 122.3,173.2 122.8,173.5 123.3,173.8 123.8,173.7 124.3,173.4 124.8,173.1 125.3,173.7 125.8,173.3 126.3,173.6 126.8,173.3 127.3,173.7 127.8,173.9 128.3,173.3 128.8,173.4 129.3,173.1 129.8,173.5 130.3,172.9 130.8,173.3 131.3,172.9 131.8,173.4 132.3,172.9 132.8,173.4 133.3,173.4 133.8,173.1 134.3,174.0 134.8,173.8 135.3,173.0 135.8,174.0 136.3,173.7 136.8,173.4 137.3,173.2 137.8,173.8 138.3,173.6 138.8,174.0 139.3,173.8 139.8,173.4 140.3,173.6 140.8,173.8 141.3,173.6 141.8,173.7 142.3,173.7 142.8,173.9 143.3,174.1 143.8,173.6 144.3,174.2 144.8,173.5 145.3,173.2 145.8,173.4 146.3,173.2 146.8,174.2 147.3,173.8 147.8,174.1 148.3,174.1 148.8,174.4 149.3,174.2 149.8,173.6 150.3,173.7 150.8,173.5 151.3,173.6 151.8,173.7 152.3,174.1 152.8,174.0 153.3,173.7 153.8,173.6 154.3,174.0 154.8,174.1 155.3,174.1 155.8,173.5 156.3,173.8 156.8,174.0 157.3,174.2 157.8,173.8 158.3,174.5 158.8,174.0 159.3,174.1 159.8,174.2 160.3,173.9 160.8,173.9 161.3,173.1 161.8,174.0 162.3,173.8 162.8,174.2 163.3,174.5 163.8,173.7 164.3,173.5 164.8,174.3 165.3,174.1 165.8,173.7 166.3,174.0 166.8,174.7 167.3,173.8 167.8,174.1 168.3,173.9 168.8,174.3 169.3,173.8 169.8,173.8 170.3,174.3 170.8,173.9 171.3,174.3 171.8,174.2 172.3,174.4 172.8,174.2 173.3,174.3 173.8,173.8 174.3,174.2 174.8,174.4 175.3,173.7 175.8,174.0 176.3,173.8 176.8,174.1 177.3,173.9 177.8,174.2 178.3,174.4 178.8,174.1 179.3,174.1 179.8,174.1 180.3,173.9 180.8,174.6 181.3,174.0 181.8,174.4 182.3,174.2 182.8,174.0 183.3,174.1 183.8,174.3 184.3,173.9 184.8,174.2 185.3,173.9 185.8,173.8 186.3,174.2 186.8,174.5 187.3,174.1 187.8,173.9 188.3,174.0 188.8,174.5 189.3,174.6 189.8,174.4 190.3,174.4 190.8,174.0 191.3,174.1 191.8,173.9 192.3,174.2 192.8,173.7 193.3,174.1 193.8,174.0 194.3,174.3 194.8,174.0 195.3,173.8 195.8,173.9 196.3,173.8 196.8,174.3 197.3,174.0 197.8,173.6 198.3,174.1 198.8,174.2 199.3,174.2 199.8,174.3 200.3,174.1 200.8,173.7 201.3,174.0 201.8,174.1 202.3,174.3 202.8,174.4 203.3,173.4 203.8,174.2 204.3,174.1 204.8,174.3 205.3,174.1 205.8,174.2 206.3,174.1 206.8,173.7 207.3,174.3 207.8,173.9 208.3,174.1 208.8,173.9 209.3,174.3 209.8,174.0 210.3,174.4 210.8,174.6 211.3,174.5 211.8,174.3 212.3,174.4 212.8,174.2 213.3,173.7 213.8,174.4 214.3,173.9 214.8,174.0 215.3,174.2 215.8,174.3 216.3,173.9 216.8,173.9 217.3,174.1 217.8,174.0 218.3,174.0 218.8,174.3 219.3,173.9 219.8,173.8 220.3,173.4 220.8,174.2 221.3,174.1 221.8,173.8 222.3,173.9 222.8,173.8 223.3,173.7 223.8,173.7 224.3,173.5 224.8,173.3 225.3,173.8 225.8,173.1 226.3,173.7 226.8,172.4 227.3,172.4 227.8,172.4 228.3,171.5 228.8,170.9 229.3,169.1 229.8,166.1 230.3,161.4 230.8,154.2 231.3,144.9 231.8,136.1 232.3,131.1 232.8,133.6 233.3,141.8 233.8,150.3 234.3,158.6 234.8,165.0 235.3,168.2 235.8,170.3 236.3,172.1 236.8,172.3 237.3,172.5 237.8,172.3 238.3,172.7 238.8,172.8 239.3,173.2 239.8,173.1 240.3,173.8 240.8,173.4 241.3,173.4 241.8,174.0 242.3,173.6 242.8,173.3 243.3,173.2 243.8,173.4 244.3,174.0 244.8,173.9 245.3,174.0 245.8,173.5 246.3,174.1 246.8,174.2 247.3,174.4 247.8,173.9 248.3,173.8 248.8,174.1 249.3,174.2 249.8,174.0 250.3,173.6 250.8,174.3 251.3,174.0 251.8,173.9 252.3,173.9 252.8,173.6 253.3,173.7 253.8,173.9 254.3,173.6 254.8,173.6 255.3,173.9 255.8,173.9 256.3,174.3 256.8,173.9 257.3,174.2 257.8,174.2 258.3,174.0 258.8,174.4 259.3,174.1 259.8,174.0 260.3,173.8 260.8,173.9 261.3,173.7 261.8,173.3 262.3,173.5 262.8,174.0 263.3,174.1 263.8,173.8 264.3,173.8 264.8,174.0 265.3,173.8 265.8,173.7 266.3,173.2 266.8,172.4 267.3,172.0 267.8,172.3 268.3,171.4 268.8,170.3 269.3,167.9 269.8,163.7 270.3,158.2 270.8,151.5 271.3,144.3 271.8,140.1 272.3,140.3 272.8,145.9 273.3,152.5 273.8,159.5 274.3,164.5 274.8,167.9 275.3,170.6 275.8,171.7 276.3,172.2 276.8,172.7 277.3,172.8 277.8,173.3 278.3,173.6 278.8,173.4 279.3,173.4 279.8,173.8 280.3,173.3 280.8,173.5 281.3,173.5 281.8,173.6 282.3,174.1 282.8,173.3 283.3,174.1 283.8,173.8 284.3,173.7 284.8,173.9 285.3,173.9 285.8,174.2 286.3,174.1 286.8,174.0 287.3,173.7 287.8,174.2 288.3,173.8 288.8,173.9 289.3,174.0 289.8,174.2 290.3,174.1 290.8,174.5 291.3,174.0 291.8,174.0 292.3,174.2 292.8,173.9 293.3,174.0 293.8,174.3 294.3,173.9 294.8,174.2 295.3,173.4 295.8,174.4 296.3,174.3 296.8,174.3 297.3,174.0 297.8,173.8 298.3,174.1 298.8,174.2 299.3,173.6 299.8,173.8 300.3,174.2 300.8,174.1 301.3,174.5 301.8,174.1 302.3,173.6 302.8,174.5 303.3,174.5 303.8,174.1 304.3,174.8 304.8,173.7 305.3,174.6 305.8,174.3 306.3,174.2 306.8,173.8 307.3,174.0 307.8,174.7 308.3,174.6 308.8,174.1 309.3,174.7 309.8,174.2 310.3,174.4 310.8,173.9 311.3,173.8 311.8,174.9 312.3,174.0 312.8,174.0 313.3,174.4 313.8,174.3 314.3,174.5 314.8,174.3 315.3,174.1 315.8,173.8 316.3,173.8 316.8,174.3 317.3,174.4 317.8,173.9 318.3,175.0 318.8,174.6 319.3,174.0 319.8,173.6 320.3,174.4 320.8,174.2 321.3,174.5 321.8,174.2 322.3,174.2 322.8,174.4 323.3,174.1 323.8,174.2 324.3,174.0 324.8,174.2 325.3,174.5 325.8,174.1 326.3,173.9 326.8,174.4 327.3,173.8 327.8,174.1 328.3,174.3 328.8,174.2 329.3,174.3 329.8,174.4 330.3,173.9 330.8,173.9 331.3,174.3 331.8,174.2 332.3,174.2 332.8,174.0 333.3,173.8 333.8,174.4 334.3,174.1 334.8,174.2 335.3,174.0 335.8,173.8 336.3,174.4 336.8,174.8 337.3,174.2 337.8,174.6 338.3,173.7 338.8,174.4 339.3,174.3 339.8,174.1 340.3,174.1 340.8,174.3 341.3,174.2 341.8,173.9 342.3,174.3 342.8,173.7 343.3,174.1 343.8,174.8 344.3,173.9 344.8,174.7 345.3,174.1 345.8,173.5 346.3,173.9 346.8,174.5 347.3,174.4 347.8,174.2 348.3,173.8 348.8,174.4 349.3,173.9 349.8,174.1 350.3,174.2 350.8,174.2 351.3,173.7 351.8,174.6 352.3,174.5 352.8,173.9 353.3,173.9 353.8,174.5 354.3,174.4 354.8,174.5 355.3,174.0 355.8,174.4 356.3,173.8 356.8,174.0 357.3,174.1 357.8,174.1 358.3,174.0 358.8,173.9 359.3,174.2 359.8,174.1 360.3,174.0 360.8,174.2 361.3,173.9 361.8,174.2 362.3,174.4 362.8,174.1 363.3,173.7 363.8,173.8 364.3,174.6 364.8,174.1 365.3,174.3 365.8,174.3 366.3,174.3 366.8,174.2 367.3,174.3 367.8,174.3 368.3,174.1 368.8,174.5 369.3,174.5 369.8,174.5 370.3,174.5 370.8,174.0 371.3,174.5 371.8,174.2 372.3,174.2 372.8,174.0 373.3,174.2 373.8,173.9 374.3,174.2 374.8,174.1 375.3,174.0 375.8,174.6 376.3,174.1 376.8,173.7 377.3,174.1 377.8,174.2 378.3,173.6 378.8,174.1 379.3,173.8 379.8,174.8 380.3,174.1 380.8,174.3 381.3,174.0 381.8,173.8 382.3,174.2 382.8,174.2 383.3,174.9 383.8,173.9 384.3,173.8 384.8,174.1 385.3,174.3 385.8,174.0 386.3,173.8 386.8,173.9 387.3,173.5 387.8,174.3 388.3,174.5 388.8,173.9 389.3,173.7 389.8,174.2 390.3,174.0 390.8,174.2 391.3,174.4 391.8,174.2 392.3,174.5 392.8,173.8 393.3,173.7 393.8,173.6 394.3,174.0 394.8,173.8 395.3,173.9 395.8,173.5 396.3,172.3 396.8,171.1 397.3,171.3 397.8,170.0 398.3,168.4 398.8,167.8 399.3,166.8 399.8,167.1 400.3,167.9 400.8,168.6 401.3,170.2 401.8,171.5 402.3,171.8 402.8,172.7 403.3,173.3 403.8,173.7 404.3,173.5 404.8,174.0 405.3,173.8 405.8,173.6 406.3,174.0 406.8,173.7 407.3,174.4 407.8,173.8 408.3,173.9 408.8,173.5 409.3,174.1 409.8,173.8 410.3,174.1 410.8,174.4 411.3,174.3 411.8,174.3 412.3,173.9 412.8,174.3 413.3,174.1 413.8,173.9 414.3,173.8 414.8,173.9 415.3,173.7 415.8,174.5 416.3,174.3 416.8,174.1 417.3,173.8 417.8,174.0 418.3,174.4 418.8,174.2 419.3,174.6 419.8,173.9 420.3,174.7 420.8,174.1 421.3,173.9 421.8,173.9 422.3,174.6 422.8,174.1 423.3,174.3 423.8,174.3 424.3,173.7 424.8,174.1 425.3,174.6 425.8,174.5 426.3,174.0 426.8,174.1 427.3,174.5 427.8,174.6 428.3,174.3 428.8,174.3 429.3,174.0 429.8,174.4 430.3,174.0 430.8,173.8 431.3,174.6 431.8,174.3 432.3,173.7 432.8,174.3 433.3,174.2 433.8,173.9 434.3,174.4 434.8,174.3 435.3,174.7 435.8,174.0 436.3,174.3 436.8,174.3 437.3,174.9 437.8,173.9 438.3,174.0 438.8,174.4 439.3,173.9 439.8,174.9 440.3,174.2 440.8,174.7 441.3,173.4 441.8,174.9 442.3,174.5 442.8,174.4 443.3,174.0 443.8,174.0 444.3,174.1 444.8,174.3 445.3,173.6 445.8,174.4 446.3,174.1 446.8,173.7 447.3,174.5 447.8,174.4 448.3,173.9 448.8,174.1 449.3,174.6 449.8,174.2 450.3,173.7 450.8,174.3 451.3,174.0 451.8,174.2 452.3,174.4 452.8,173.7 453.3,173.9 453.8,173.9 454.3,174.2 454.8,174.2 455.3,174.1 455.8,174.1 456.3,174.3 456.8,174.3 457.3,173.8 457.8,174.5 458.3,174.3 458.8,174.3 459.3,174.3 459.8,174.5 460.3,174.4 460.8,174.0 461.3,174.3 461.8,174.4 462.3,173.7 462.8,174.6 463.3,173.9 463.8,174.1 464.3,174.6 464.8,174.3 465.3,174.3 465.8,173.8 466.3,173.9 466.8,174.3 467.3,174.5 467.8,174.7 468.3,174.2 468.8,174.6 469.3,174.2 469.8,174.2 470.3,174.1 470.8,173.9 471.3,174.1 471.8,174.0 472.3,174.2 472.8,173.8 473.3,173.9 473.8,173.6 474.3,173.7 474.8,174.3 475.3,174.5 475.8,173.8 476.3,173.7 476.8,174.1 477.3,173.5 477.8,173.8 478.3,173.7 478.8,173.3 479.3,173.4 479.8,173.0 480.3,172.0 480.8,171.4 481.3,170.2 481.8,169.4 482.3,169.7 482.8,169.2 483.3,169.4 483.8,171.0 484.3,171.3 484.8,172.4 485.3,173.2 485.8,172.8 486.3,173.2 486.8,173.8 487.3,174.0 487.8,173.5 488.3,173.6 488.8,174.0 489.3,173.8 489.8,174.0 490.3,174.2 490.8,173.9 491.3,174.2 491.8,174.0 492.3,174.2 492.8,174.3 493.3,174.3 493.8,174.0 494.3,173.9 494.8,174.0 495.3,174.4 495.8,174.0 496.3,174.4 496.8,174.5 497.3,174.2 497.8,173.9 498.3,174.0 498.8,174.0 499.3,173.8 499.8,173.9 500.3,174.3 500.8,173.9 501.3,174.2 501.8,174.0 502.3,174.0 502.8,174.1 503.3,174.5 503.8,174.1 504.3,174.1 504.8,174.0 505.3,174.0 505.8,174.1 506.3,174.1 506.8,173.3 507.3,173.1 507.8,173.0 508.3,172.9 508.8,172.2 509.3,172.4 509.8,172.6 510.3,172.5 510.8,172.9 511.3,172.9 511.8,173.2 512.3,173.4 512.8,173.7 513.3,173.9 513.8,173.8 514.3,173.7 514.8,174.3 515.3,174.2 515.8,174.4 516.3,173.9 516.8,174.2 517.3,173.9 517.8,174.4 518.3,173.9 518.8,174.3 519.3,174.3 519.8,174.0 520.3,174.3 520.8,174.3 521.3,173.9 521.8,174.2 522.3,173.8 522.8,173.5 523.3,174.3 523.8,174.3 524.3,174.6 524.8,174.5 525.3,174.0 525.8,174.1 526.3,174.1 526.8,174.1 527.3,174.4 527.8,174.7 528.3,173.9 528.8,174.1 529.3,173.9 529.8,174.2 530.3,174.0 530.8,174.3 531.3,174.2 531.8,174.2 532.3,174.1 532.8,173.8 533.3,174.0 533.8,175.0 534.3,174.2 534.8,174.2" fill="none" stroke="#30aa64" stroke-width="4.7" stroke-linejoin="round" stroke-linecap="butt"/>
<polyline points="53.3,124.8 53.8,125.0 54.3,125.2 54.8,125.2 55.3,125.1 55.8,125.2 56.3,124.6 56.8,124.8 57.3,125.0 57.8,124.7 58.3,124.4 58.8,125.1 59.3,125.0 59.8,125.1 60.3,125.3 60.8,125.2 61.3,125.3 61.8,124.9 62.3,124.9 62.8,124.8 63.3,125.2 63.8,124.7 64.3,125.3 64.8,125.0 65.3,124.6 65.8,124.7 66.3,124.7 66.8,124.4 67.3,124.7 67.8,125.1 68.3,125.1 68.8,125.2 69.3,124.9 69.8,125.2 70.3,125.2 70.8,125.3 71.3,125.5 71.8,124.3 72.3,124.7 72.8,125.6 73.3,124.9 73.8,125.1 74.3,125.6 74.8,125.0 75.3,124.9 75.8,124.8 76.3,124.7 76.8,125.2 77.3,125.0 77.8,124.8 78.3,124.8 78.8,124.9 79.3,125.0 79.8,124.6 80.3,125.3 80.8,125.4 81.3,124.5 81.8,124.9 82.3,124.7 82.8,124.9 83.3,125.1 83.8,125.1 84.3,124.9 84.8,125.1 85.3,125.0 85.8,125.0 86.3,124.7 86.8,124.7 87.3,124.5 87.8,125.1 88.3,125.0 88.8,124.7 89.3,124.8 89.8,125.6 90.3,124.8 90.8,124.9 91.3,125.1 91.8,125.0 92.3,125.1 92.8,124.6 93.3,124.7 93.8,124.9 94.3,124.6 94.8,124.6 95.3,125.1 95.8,125.2 96.3,125.2 96.8,124.7 97.3,124.9 97.8,124.5 98.3,124.7 98.8,124.9 99.3,125.2 99.8,124.9 100.3,124.2 100.8,125.0 101.3,125.1 101.8,124.9 102.3,124.5 102.8,124.8 103.3,125.1 103.8,125.0 104.3,124.9 104.8,124.8 105.3,124.5 105.8,124.1 106.3,124.4 106.8,124.6 107.3,124.8 107.8,125.0 108.3,124.6 108.8,124.4 109.3,124.5 109.8,124.8 110.3,124.6 110.8,124.8 111.3,124.8 111.8,124.8 112.3,124.7 112.8,124.8 113.3,124.4 113.8,124.7 114.3,124.7 114.8,124.4 115.3,124.5 115.8,124.4 116.3,124.9 116.8,124.3 117.3,124.7 117.8,125.0 118.3,124.7 118.8,125.0 119.3,124.9 119.8,124.8 120.3,124.4 120.8,125.0 121.3,124.6 121.8,124.7 122.3,124.2 122.8,124.6 123.3,124.5 123.8,124.2 124.3,124.9 124.8,124.7 125.3,125.0 125.8,124.8 126.3,124.5 126.8,124.6 127.3,124.5 127.8,124.7 128.3,124.8 128.8,124.6 129.3,124.8 129.8,124.8 130.3,124.9 130.8,124.5 131.3,124.4 131.8,124.8 132.3,124.6 132.8,125.0 133.3,124.7 133.8,124.3 134.3,124.6 134.8,124.1 135.3,124.3 135.8,124.1 136.3,124.3 136.8,124.4 137.3,124.0 137.8,123.8 138.3,124.0 138.8,123.7 139.3,124.0 139.8,123.9 140.3,123.4 140.8,123.7 141.3,123.9 141.8,123.5 142.3,123.6 142.8,123.8 143.3,123.4 143.8,124.4 144.3,123.5 144.8,123.2 145.3,123.6 145.8,124.3 146.3,123.4 146.8,123.2 147.3,123.8 147.8,124.3 148.3,124.2 148.8,124.1 149.3,124.1 149.8,123.9 150.3,124.1 150.8,124.9 151.3,124.4 151.8,124.4 152.3,123.9 152.8,124.6 153.3,124.9 153.8,124.6 154.3,124.5 154.8,125.1 155.3,124.3 155.8,124.7 156.3,124.5 156.8,124.5 157.3,124.6 157.8,124.4 158.3,124.3 158.8,124.9 159.3,124.8 159.8,124.5 160.3,124.7 160.8,125.0 161.3,124.8 161.8,125.0 162.3,124.9 162.8,125.7 163.3,124.8 163.8,124.3 164.3,124.6 164.8,124.6 165.3,124.8 165.8,125.0 166.3,124.7 166.8,124.8 167.3,124.9 167.8,124.8 168.3,125.0 168.8,124.8 169.3,124.7 169.8,124.6 170.3,124.8 170.8,124.7 171.3,124.8 171.8,125.5 172.3,125.4 172.8,124.9 173.3,125.2 173.8,124.7 174.3,125.3 174.8,125.0 175.3,125.1 175.8,125.1 176.3,125.1 176.8,124.9 177.3,124.9 177.8,125.1 178.3,124.9 178.8,124.8 179.3,125.0 179.8,125.1 180.3,125.1 180.8,125.1 181.3,125.1 181.8,124.9 182.3,124.2 182.8,124.6 183.3,124.9 183.8,124.8 184.3,124.8 184.8,124.6 185.3,124.5 185.8,125.2 186.3,124.3 186.8,125.2 187.3,124.9 187.8,125.2 188.3,125.4 188.8,125.4 189.3,124.4 189.8,124.5 190.3,125.2 190.8,125.2 191.3,124.5 191.8,125.2 192.3,124.8 192.8,124.4 193.3,124.7 193.8,124.5 194.3,124.9 194.8,125.4 195.3,125.1 195.8,125.4 196.3,124.8 196.8,125.3 197.3,124.9 197.8,125.1 198.3,125.1 198.8,124.8 199.3,125.0 199.8,125.1 200.3,124.6 200.8,124.9 201.3,125.3 201.8,124.6 202.3,125.3 202.8,124.8 203.3,124.8 203.8,125.0 204.3,125.1 204.8,125.0 205.3,125.0 205.8,125.2 206.3,124.6 206.8,125.0 207.3,125.1 207.8,124.5 208.3,125.1 208.8,125.3 209.3,124.9 209.8,124.8 210.3,124.8 210.8,124.3 211.3,125.0 211.8,124.4 212.3,124.6 212.8,124.4 213.3,124.8 213.8,124.9 214.3,124.8 214.8,124.7 215.3,124.5 215.8,124.3 216.3,125.2 216.8,124.4 217.3,124.6 217.8,124.6 218.3,124.9 218.8,124.5 219.3,125.1 219.8,124.2 220.3,124.8 220.8,124.5 221.3,124.5 221.8,124.2 222.3,124.7 222.8,124.0 223.3,124.1 223.8,123.7 224.3,123.9 224.8,123.9 225.3,124.3 225.8,123.7 226.3,122.9 226.8,123.3 227.3,122.9 227.8,122.4 228.3,121.6 228.8,121.5 229.3,119.2 229.8,117.1 230.3,112.5 230.8,104.4 231.3,90.6 231.8,73.5 232.3,54.8 232.8,44.4 233.3,49.6 233.8,65.8 234.3,84.3 234.8,99.8 235.3,110.0 235.8,115.8 236.3,119.1 236.8,120.9 237.3,121.5 237.8,122.4 238.3,122.5 238.8,122.8 239.3,122.9 239.8,123.2 240.3,123.7 240.8,123.7 241.3,124.2 241.8,123.9 242.3,124.2 242.8,123.8 243.3,124.4 243.8,124.3 244.3,124.6 244.8,124.2 245.3,124.2 245.8,124.7 246.3,123.9 246.8,124.4 247.3,124.9 247.8,124.8 248.3,125.1 248.8,125.1 249.3,124.6 249.8,125.2 250.3,124.5 250.8,125.1 251.3,124.7 251.8,124.1 252.3,124.7 252.8,124.6 253.3,124.3 253.8,124.7 254.3,124.5 254.8,124.8 255.3,124.7 255.8,124.5 256.3,124.6 256.8,124.8 257.3,124.5 257.8,124.4 258.3,124.3 258.8,124.5 259.3,124.7 259.8,124.2 260.3,124.1 260.8,124.6 261.3,124.9 261.8,124.3 262.3,123.9 262.8,123.9 263.3,124.3 263.8,123.5 264.3,124.0 264.8,123.4 265.3,123.6 265.8,123.0 266.3,122.8 266.8,122.5 267.3,121.6 267.8,121.0 268.3,119.3 268.8,116.9 269.3,113.7 269.8,108.8 270.3,103.4 270.8,97.8 271.3,92.4 271.8,87.9 272.3,86.9 272.8,89.2 273.3,94.3 273.8,100.2 274.3,105.6 274.8,111.2 275.3,115.0 275.8,118.4 276.3,120.0 276.8,121.4 277.3,122.2 277.8,122.5 278.3,123.3 278.8,123.3 279.3,123.7 279.8,123.9 280.3,124.4 280.8,123.9 281.3,123.9 281.8,124.5 282.3,124.4 282.8,124.8 283.3,124.5 283.8,124.7 284.3,124.4 284.8,124.6 285.3,124.4 285.8,124.8 286.3,125.1 286.8,124.7 287.3,124.8 287.8,124.2 288.3,124.6 288.8,124.3 289.3,124.6 289.8,124.8 290.3,125.2 290.8,124.8 291.3,124.6 291.8,124.8 292.3,124.7 292.8,124.7 293.3,125.2 293.8,124.8 294.3,125.1 294.8,124.9 295.3,124.5 295.8,125.4 296.3,124.9 296.8,124.8 297.3,124.6 297.8,124.9 298.3,125.1 298.8,124.7 299.3,124.7 299.8,125.4 300.3,124.9 300.8,125.4 301.3,125.6 301.8,125.2 302.3,125.2 302.8,125.5 303.3,124.4 303.8,125.3 304.3,124.8 304.8,124.7 305.3,124.3 305.8,125.0 306.3,124.5 306.8,125.2 307.3,124.9 307.8,125.0 308.3,125.2 308.8,124.8 309.3,124.4 309.8,124.3 310.3,124.7 310.8,125.2 311.3,125.2 311.8,124.8 312.3,124.8 312.8,124.8 313.3,125.0 313.8,125.2 314.3,124.8 314.8,124.9 315.3,124.5 315.8,125.1 316.3,124.7 316.8,124.6 317.3,124.4 317.8,124.4 318.3,125.2 318.8,125.3 319.3,124.9 319.8,125.2 320.3,125.6 320.8,124.5 321.3,124.8 321.8,124.7 322.3,124.9 322.8,124.6 323.3,124.9 323.8,124.9 324.3,124.4 324.8,125.3 325.3,124.8 325.8,125.4 326.3,124.5 326.8,125.0 327.3,125.3 327.8,125.5 328.3,125.0 328.8,124.4 329.3,124.8 329.8,125.4 330.3,125.5 330.8,124.2 331.3,125.1 331.8,125.4 332.3,124.9 332.8,124.8 333.3,124.5 333.8,125.0 334.3,125.2 334.8,124.8 335.3,125.2 335.8,124.9 336.3,124.9 336.8,124.7 337.3,125.2 337.8,125.1 338.3,124.9 338.8,124.8 339.3,125.4 339.8,125.2 340.3,124.9 340.8,125.1 341.3,124.3 341.8,124.8 342.3,124.6 342.8,125.0 343.3,124.9 343.8,124.9 344.3,124.7 344.8,125.0 345.3,124.5 345.8,125.2 346.3,124.7 346.8,124.9 347.3,125.1 347.8,124.5 348.3,124.7 348.8,125.0 349.3,125.2 349.8,124.7 350.3,125.2 350.8,124.8 351.3,125.2 351.8,124.9 352.3,125.2 352.8,125.0 353.3,124.5 353.8,124.5 354.3,125.1 354.8,125.0 355.3,125.4 355.8,124.9 356.3,124.6 356.8,125.2 357.3,125.2 357.8,124.8 358.3,125.1 358.8,124.9 359.3,124.5 359.8,124.8 360.3,124.7 360.8,124.4 361.3,124.9 361.8,124.7 362.3,124.9 362.8,125.1 363.3,124.5 363.8,125.3 364.3,124.9 364.8,125.2 365.3,125.2 365.8,125.3 366.3,125.0 366.8,124.8 367.3,124.5 367.8,125.4 368.3,124.8 368.8,125.0 369.3,125.1 369.8,124.9 370.3,124.8 370.8,124.9 371.3,124.9 371.8,124.3 372.3,124.9 372.8,124.8 373.3,125.2 373.8,124.6 374.3,125.0 374.8,124.9 375.3,125.1 375.8,124.9 376.3,125.1 376.8,125.2 377.3,125.2 377.8,124.9 378.3,124.8 378.8,124.6 379.3,124.3 379.8,124.3 380.3,125.0 380.8,125.0 381.3,124.6 381.8,125.0 382.3,124.4 382.8,124.4 383.3,125.0 383.8,124.5 384.3,124.3 384.8,124.5 385.3,124.7 385.8,124.7 386.3,124.5 386.8,124.8 387.3,124.4 387.8,124.6 388.3,124.7 388.8,124.7 389.3,124.2 389.8,124.6 390.3,124.2 390.8,124.7 391.3,124.1 391.8,123.9 392.3,123.7 392.8,123.4 393.3,123.3 393.8,123.0 394.3,122.8 394.8,122.4 395.3,121.6 395.8,120.2 396.3,118.2 396.8,115.7 397.3,112.9 397.8,109.5 398.3,105.5 398.8,102.0 399.3,98.8 399.8,97.2 400.3,97.3 400.8,99.4 401.3,103.0 401.8,106.6 402.3,110.5 402.8,113.2 403.3,116.1 403.8,118.8 404.3,120.5 404.8,121.5 405.3,122.7 405.8,122.5 406.3,123.3 406.8,123.6 407.3,123.4 407.8,123.5 408.3,124.0 408.8,123.8 409.3,124.6 409.8,124.5 410.3,124.6 410.8,124.8 411.3,124.2 411.8,123.8 412.3,124.9 412.8,124.7 413.3,124.3 413.8,124.7 414.3,124.6 414.8,124.9 415.3,124.6 415.8,125.0 416.3,124.5 416.8,124.6 417.3,124.6 417.8,125.0 418.3,124.8 418.8,124.6 419.3,125.0 419.8,125.1 420.3,125.4 420.8,125.0 421.3,124.9 421.8,124.6 422.3,125.2 422.8,125.2 423.3,124.5 423.8,124.5 424.3,125.2 424.8,125.0 425.3,125.4 425.8,124.9 426.3,124.5 426.8,124.6 427.3,125.2 427.8,124.8 428.3,125.1 428.8,124.8 429.3,125.0 429.8,124.7 430.3,124.5 430.8,124.8 431.3,124.8 431.8,124.8 432.3,124.6 432.8,125.0 433.3,124.9 433.8,124.9 434.3,124.5 434.8,124.9 435.3,124.7 435.8,125.0 436.3,125.3 436.8,125.0 437.3,124.8 437.8,125.0 438.3,125.1 438.8,125.0 439.3,124.8 439.8,124.8 440.3,124.9 440.8,125.2 441.3,125.1 441.8,123.9 442.3,124.9 442.8,124.7 443.3,124.8 443.8,125.3 444.3,124.5 444.8,124.9 445.3,125.1 445.8,124.7 446.3,125.1 446.8,124.8 447.3,125.3 447.8,124.9 448.3,124.7 448.8,125.0 449.3,125.3 449.8,125.1 450.3,124.7 450.8,125.3 451.3,125.3 451.8,124.7 452.3,124.8 452.8,124.9 453.3,125.0 453.8,124.8 454.3,124.6 454.8,124.7 455.3,125.3 455.8,124.7 456.3,125.3 456.8,124.4 457.3,125.0 457.8,124.7 458.3,124.7 458.8,125.0 459.3,124.5 459.8,124.8 460.3,124.2 460.8,124.6 461.3,124.7 461.8,124.1 462.3,124.4 462.8,124.8 463.3,125.0 463.8,124.2 464.3,124.4 464.8,124.4 465.3,124.8 465.8,124.9 466.3,124.9 466.8,124.3 467.3,124.7 467.8,124.4 468.3,125.2 468.8,124.3 469.3,124.7 469.8,125.3 470.3,124.8 470.8,124.3 471.3,124.0 471.8,125.1 472.3,124.7 472.8,124.2 473.3,124.6 473.8,124.2 474.3,124.3 474.8,123.9 475.3,124.2 475.8,123.7 476.3,123.6 476.8,123.0 477.3,122.6 477.8,121.7 478.3,121.0 478.8,119.3 479.3,118.5 479.8,115.8 480.3,112.7 480.8,109.5 481.3,106.6 481.8,102.2 482.3,99.3 482.8,96.6 483.3,97.1 483.8,98.5 484.3,101.8 484.8,105.0 485.3,109.6 485.8,112.5 486.3,115.3 486.8,118.1 487.3,119.2 487.8,120.8 488.3,121.3 488.8,122.9 489.3,123.2 489.8,123.1 490.3,123.6 490.8,123.4 491.3,123.6 491.8,124.1 492.3,124.0 492.8,123.9 493.3,124.1 493.8,124.3 494.3,124.4 494.8,124.4 495.3,124.1 495.8,123.8 496.3,124.8 496.8,124.7 497.3,124.5 497.8,124.0 498.3,124.7 498.8,123.8 499.3,123.8 499.8,125.1 500.3,124.2 500.8,124.2 501.3,124.5 501.8,124.8 502.3,124.2 502.8,124.3 503.3,123.7 503.8,123.7 504.3,123.9 504.8,122.8 505.3,122.4 505.8,122.0 506.3,121.8 506.8,120.8 507.3,120.2 507.8,119.5 508.3,118.9 508.8,117.5 509.3,117.4 509.8,116.2 510.3,116.8 510.8,116.7 511.3,117.5 511.8,118.6 512.3,119.5 512.8,120.3 513.3,120.6 513.8,121.6 514.3,122.5 514.8,122.7 515.3,123.7 515.8,124.1 516.3,124.2 516.8,123.8 517.3,124.3 517.8,124.3 518.3,124.4 518.8,124.6 519.3,124.2 519.8,124.4 520.3,124.9 520.8,124.9 521.3,124.7 521.8,125.0 522.3,124.7 522.8,124.5 523.3,124.7 523.8,124.7 524.3,124.9 524.8,125.0 525.3,125.1 525.8,124.4 526.3,125.0 526.8,124.8 527.3,124.8 527.8,124.7 528.3,124.9 528.8,125.3 529.3,124.3 529.8,125.2 530.3,124.7 530.8,125.2 531.3,124.7 531.8,125.2 532.3,124.4 532.8,124.8 533.3,125.4 533.8,124.4 534.3,125.4 534.8,125.0" fill="none" stroke="#a767e2" stroke-width="4.7" stroke-linejoin="round" stroke-linecap="butt"/>
</g>
<g font-size="25.2" fill="#000">
<text transform="translate(53.30,395.0) scale(0.96,1)" text-anchor="middle">10</text>
<text transform="translate(113.49,395.0) scale(0.96,1)" text-anchor="middle">20</text>
<text transform="translate(173.67,395.0) scale(0.96,1)" text-anchor="middle">30</text>
<text transform="translate(233.86,395.0) scale(0.96,1)" text-anchor="middle">40</text>
<text transform="translate(294.05,395.0) scale(0.96,1)" text-anchor="middle">50</text>
<text transform="translate(354.24,395.0) scale(0.96,1)" text-anchor="middle">60</text>
<text transform="translate(414.42,395.0) scale(0.96,1)" text-anchor="middle">70</text>
<text transform="translate(474.61,395.0) scale(0.96,1)" text-anchor="middle">80</text>
<text transform="translate(534.80,395.0) scale(0.96,1)" text-anchor="middle">90</text>
</g>
<line x1="83.39" y1="368.7" x2="83.39" y2="364.7" stroke="#000" stroke-width="1.5"/>
<line x1="113.49" y1="368.7" x2="113.49" y2="361.7" stroke="#000" stroke-width="1.5"/>
<line x1="143.58" y1="368.7" x2="143.58" y2="364.7" stroke="#000" stroke-width="1.5"/>
<line x1="173.67" y1="368.7" x2="173.67" y2="361.7" stroke="#000" stroke-width="1.5"/>
<line x1="203.77" y1="368.7" x2="203.77" y2="364.7" stroke="#000" stroke-width="1.5"/>
<line x1="233.86" y1="368.7" x2="233.86" y2="361.7" stroke="#000" stroke-width="1.5"/>
<line x1="263.96" y1="368.7" x2="263.96" y2="364.7" stroke="#000" stroke-width="1.5"/>
<line x1="294.05" y1="368.7" x2="294.05" y2="361.7" stroke="#000" stroke-width="1.5"/>
<line x1="324.14" y1="368.7" x2="324.14" y2="364.7" stroke="#000" stroke-width="1.5"/>
<line x1="354.24" y1="368.7" x2="354.24" y2="361.7" stroke="#000" stroke-width="1.5"/>
<line x1="384.33" y1="368.7" x2="384.33" y2="364.7" stroke="#000" stroke-width="1.5"/>
<line x1="414.42" y1="368.7" x2="414.42" y2="361.7" stroke="#000" stroke-width="1.5"/>
<line x1="444.52" y1="368.7" x2="444.52" y2="364.7" stroke="#000" stroke-width="1.5"/>
<line x1="474.61" y1="368.7" x2="474.61" y2="361.7" stroke="#000" stroke-width="1.5"/>
<line x1="504.71" y1="368.7" x2="504.71" y2="364.7" stroke="#000" stroke-width="1.5"/>
<g clip-path="url(#pc)">
<line x1="232.4" y1="371.7" x2="232.4" y2="327.7" stroke="#3c3c3c" stroke-width="4" stroke-linecap="round"/>
<line x1="270.9" y1="371.7" x2="270.9" y2="342.0" stroke="#3c3c3c" stroke-width="4" stroke-linecap="round"/>
<line x1="398.5" y1="371.7" x2="398.5" y2="349.3" stroke="#3c3c3c" stroke-width="4" stroke-linecap="round"/>
<line x1="482.0" y1="371.7" x2="482.0" y2="348.5" stroke="#3c3c3c" stroke-width="4" stroke-linecap="round"/>
<line x1="508.4" y1="371.7" x2="508.4" y2="355.3" stroke="#3c3c3c" stroke-width="4" stroke-linecap="round"/>
</g>
<rect x="53.3" y="8.8" width="481.49999999999994" height="359.9" fill="none" stroke="#000" stroke-width="1.9"/>
<g font-size="20" font-weight="bold" fill="#000">
<text transform="translate(222.3,80.5) rotate(-90)">Pt(111)</text>
<text transform="translate(279.2,80.5) rotate(-90)">Pt(200)</text>
<text transform="translate(410.0,93.4) rotate(-90)">Pt(220)</text>
<text transform="translate(492.2,94.0) rotate(-90)">Pt(311)</text>
<text transform="translate(519.4,108.0) rotate(-90)">Pt(222)</text>
</g>
<text x="207" y="347" font-size="19.7" font-weight="bold" fill="#3c3c3c">Pt</text>
<text transform="translate(28.4,274.2) rotate(-90)" font-size="30.5" fill="#000">Intensity/(a.u)</text>
<text x="268.8" y="438.8" font-size="30.2" fill="#000" letter-spacing="0.2">2θ/°</text>
<g>
<rect x="56.7" y="12.3" width="128.1" height="96.1" fill="#fff" stroke="#777" stroke-width="1.3"/>
<line x1="56.7" y1="11.8" x2="56.7" y2="108.9" stroke="#444" stroke-width="1.3"/>
<line x1="56.3" y1="22.8" x2="92.5" y2="22.8" stroke="#a767e2" stroke-width="4"/><circle cx="92.5" cy="22.8" r="2" fill="#a767e2"/>
<line x1="56.3" y1="41.5" x2="92.5" y2="41.5" stroke="#30aa64" stroke-width="4"/><circle cx="92.5" cy="41.5" r="2" fill="#30aa64"/>
<line x1="56.3" y1="60.2" x2="92.5" y2="60.2" stroke="#1266e4" stroke-width="4"/><circle cx="92.5" cy="60.2" r="2" fill="#1266e4"/>
<line x1="56.3" y1="78.9" x2="92.5" y2="78.9" stroke="#f03a3c" stroke-width="4"/><circle cx="92.5" cy="78.9" r="2" fill="#f03a3c"/>
<line x1="56.3" y1="97.8" x2="92.5" y2="97.8" stroke="#474747" stroke-width="4"/><circle cx="92.5" cy="97.8" r="2" fill="#474747"/>
<g font-size="16.4" fill="#000">
<text x="96.6" y="28.1" textLength="86" lengthAdjust="spacingAndGlyphs">PVP:Pt=100:1</text>
<text x="96.6" y="46.9" textLength="78.6" lengthAdjust="spacingAndGlyphs">PVP:Pt=75:1</text>
<text x="96.6" y="65.6" textLength="78.6" lengthAdjust="spacingAndGlyphs">PVP:Pt=50:1</text>
<text x="96.6" y="84.3" textLength="78.6" lengthAdjust="spacingAndGlyphs">PVP:Pt=25:1</text>
<text x="96.6" y="103.1" textLength="70.8" lengthAdjust="spacingAndGlyphs">PVP:Pt=0:1</text>
</g>
</g>
</svg>
</body></html>
